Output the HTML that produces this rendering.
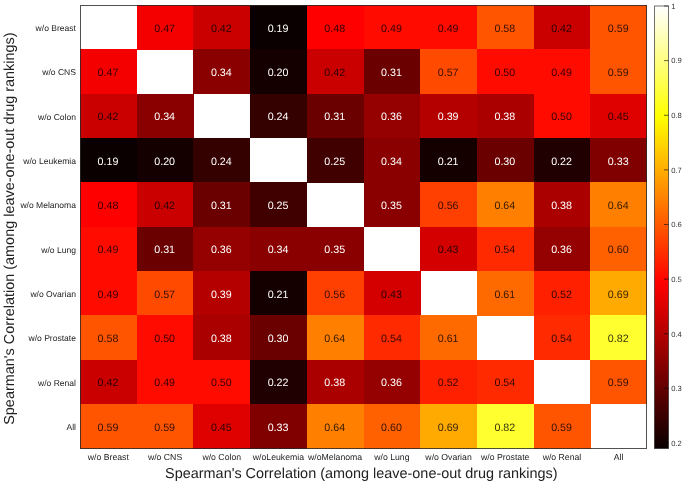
<!DOCTYPE html><html><head><meta charset="utf-8"><title>Spearman correlation heatmap</title>
<style>html,body{margin:0;padding:0;background:#fff}body{width:685px;height:483px;overflow:hidden}svg{display:block}text{text-rendering:geometricPrecision;font-family:"Liberation Sans",Arial,Helvetica,sans-serif}</style></head><body>
<svg width="685" height="483" viewBox="0 0 685 483">
<defs><linearGradient id="cb" x1="0" y1="1" x2="0" y2="0">
<stop offset="0" stop-color="rgb(10,0,0)"/>
<stop offset="0.375" stop-color="rgb(255,0,0)"/>
<stop offset="0.75" stop-color="rgb(255,255,0)"/>
<stop offset="1" stop-color="rgb(255,255,255)"/>
</linearGradient></defs>
<rect width="685" height="483" fill="#fff"/>
<g shape-rendering="crispEdges">
<rect x="136.70" y="5.00" width="57.00" height="44.65" fill="rgb(244,0,0)"/>
<rect x="193.40" y="5.00" width="57.00" height="44.65" fill="rgb(202,0,0)"/>
<rect x="250.10" y="5.00" width="57.00" height="44.65" fill="rgb(11,0,0)"/>
<rect x="306.80" y="5.00" width="57.00" height="44.65" fill="rgb(255,0,0)"/>
<rect x="363.50" y="5.00" width="57.00" height="44.65" fill="rgb(255,11,0)"/>
<rect x="420.20" y="5.00" width="57.00" height="44.65" fill="rgb(255,11,0)"/>
<rect x="476.90" y="5.00" width="57.00" height="44.65" fill="rgb(255,85,0)"/>
<rect x="533.60" y="5.00" width="57.00" height="44.65" fill="rgb(202,0,0)"/>
<rect x="590.30" y="5.00" width="57.00" height="44.65" fill="rgb(255,85,0)"/>
<rect x="80.00" y="49.35" width="57.00" height="44.65" fill="rgb(244,0,0)"/>
<rect x="193.40" y="49.35" width="57.00" height="44.65" fill="rgb(138,0,0)"/>
<rect x="250.10" y="49.35" width="57.00" height="44.65" fill="rgb(21,0,0)"/>
<rect x="306.80" y="49.35" width="57.00" height="44.65" fill="rgb(202,0,0)"/>
<rect x="363.50" y="49.35" width="57.00" height="44.65" fill="rgb(106,0,0)"/>
<rect x="420.20" y="49.35" width="57.00" height="44.65" fill="rgb(255,74,0)"/>
<rect x="476.90" y="49.35" width="57.00" height="44.65" fill="rgb(255,11,0)"/>
<rect x="533.60" y="49.35" width="57.00" height="44.65" fill="rgb(255,11,0)"/>
<rect x="590.30" y="49.35" width="57.00" height="44.65" fill="rgb(255,85,0)"/>
<rect x="80.00" y="93.70" width="57.00" height="44.65" fill="rgb(202,0,0)"/>
<rect x="136.70" y="93.70" width="57.00" height="44.65" fill="rgb(138,0,0)"/>
<rect x="250.10" y="93.70" width="57.00" height="44.65" fill="rgb(53,0,0)"/>
<rect x="306.80" y="93.70" width="57.00" height="44.65" fill="rgb(106,0,0)"/>
<rect x="363.50" y="93.70" width="57.00" height="44.65" fill="rgb(149,0,0)"/>
<rect x="420.20" y="93.70" width="57.00" height="44.65" fill="rgb(181,0,0)"/>
<rect x="476.90" y="93.70" width="57.00" height="44.65" fill="rgb(170,0,0)"/>
<rect x="533.60" y="93.70" width="57.00" height="44.65" fill="rgb(255,11,0)"/>
<rect x="590.30" y="93.70" width="57.00" height="44.65" fill="rgb(223,0,0)"/>
<rect x="80.00" y="138.05" width="57.00" height="44.65" fill="rgb(11,0,0)"/>
<rect x="136.70" y="138.05" width="57.00" height="44.65" fill="rgb(21,0,0)"/>
<rect x="193.40" y="138.05" width="57.00" height="44.65" fill="rgb(53,0,0)"/>
<rect x="306.80" y="138.05" width="57.00" height="44.65" fill="rgb(64,0,0)"/>
<rect x="363.50" y="138.05" width="57.00" height="44.65" fill="rgb(138,0,0)"/>
<rect x="420.20" y="138.05" width="57.00" height="44.65" fill="rgb(21,0,0)"/>
<rect x="476.90" y="138.05" width="57.00" height="44.65" fill="rgb(106,0,0)"/>
<rect x="533.60" y="138.05" width="57.00" height="44.65" fill="rgb(32,0,0)"/>
<rect x="590.30" y="138.05" width="57.00" height="44.65" fill="rgb(128,0,0)"/>
<rect x="80.00" y="182.40" width="57.00" height="44.65" fill="rgb(255,0,0)"/>
<rect x="136.70" y="182.40" width="57.00" height="44.65" fill="rgb(202,0,0)"/>
<rect x="193.40" y="182.40" width="57.00" height="44.65" fill="rgb(106,0,0)"/>
<rect x="250.10" y="182.40" width="57.00" height="44.65" fill="rgb(64,0,0)"/>
<rect x="363.50" y="182.40" width="57.00" height="44.65" fill="rgb(138,0,0)"/>
<rect x="420.20" y="182.40" width="57.00" height="44.65" fill="rgb(255,64,0)"/>
<rect x="476.90" y="182.40" width="57.00" height="44.65" fill="rgb(255,128,0)"/>
<rect x="533.60" y="182.40" width="57.00" height="44.65" fill="rgb(170,0,0)"/>
<rect x="590.30" y="182.40" width="57.00" height="44.65" fill="rgb(255,128,0)"/>
<rect x="80.00" y="226.75" width="57.00" height="44.65" fill="rgb(255,11,0)"/>
<rect x="136.70" y="226.75" width="57.00" height="44.65" fill="rgb(106,0,0)"/>
<rect x="193.40" y="226.75" width="57.00" height="44.65" fill="rgb(149,0,0)"/>
<rect x="250.10" y="226.75" width="57.00" height="44.65" fill="rgb(138,0,0)"/>
<rect x="306.80" y="226.75" width="57.00" height="44.65" fill="rgb(138,0,0)"/>
<rect x="420.20" y="226.75" width="57.00" height="44.65" fill="rgb(212,0,0)"/>
<rect x="476.90" y="226.75" width="57.00" height="44.65" fill="rgb(255,42,0)"/>
<rect x="533.60" y="226.75" width="57.00" height="44.65" fill="rgb(149,0,0)"/>
<rect x="590.30" y="226.75" width="57.00" height="44.65" fill="rgb(255,96,0)"/>
<rect x="80.00" y="271.10" width="57.00" height="44.65" fill="rgb(255,11,0)"/>
<rect x="136.70" y="271.10" width="57.00" height="44.65" fill="rgb(255,74,0)"/>
<rect x="193.40" y="271.10" width="57.00" height="44.65" fill="rgb(181,0,0)"/>
<rect x="250.10" y="271.10" width="57.00" height="44.65" fill="rgb(21,0,0)"/>
<rect x="306.80" y="271.10" width="57.00" height="44.65" fill="rgb(255,64,0)"/>
<rect x="363.50" y="271.10" width="57.00" height="44.65" fill="rgb(212,0,0)"/>
<rect x="476.90" y="271.10" width="57.00" height="44.65" fill="rgb(255,106,0)"/>
<rect x="533.60" y="271.10" width="57.00" height="44.65" fill="rgb(255,32,0)"/>
<rect x="590.30" y="271.10" width="57.00" height="44.65" fill="rgb(255,170,0)"/>
<rect x="80.00" y="315.45" width="57.00" height="44.65" fill="rgb(255,85,0)"/>
<rect x="136.70" y="315.45" width="57.00" height="44.65" fill="rgb(255,11,0)"/>
<rect x="193.40" y="315.45" width="57.00" height="44.65" fill="rgb(170,0,0)"/>
<rect x="250.10" y="315.45" width="57.00" height="44.65" fill="rgb(106,0,0)"/>
<rect x="306.80" y="315.45" width="57.00" height="44.65" fill="rgb(255,128,0)"/>
<rect x="363.50" y="315.45" width="57.00" height="44.65" fill="rgb(255,42,0)"/>
<rect x="420.20" y="315.45" width="57.00" height="44.65" fill="rgb(255,106,0)"/>
<rect x="533.60" y="315.45" width="57.00" height="44.65" fill="rgb(255,42,0)"/>
<rect x="590.30" y="315.45" width="57.00" height="44.65" fill="rgb(255,255,48)"/>
<rect x="80.00" y="359.80" width="57.00" height="44.65" fill="rgb(202,0,0)"/>
<rect x="136.70" y="359.80" width="57.00" height="44.65" fill="rgb(255,11,0)"/>
<rect x="193.40" y="359.80" width="57.00" height="44.65" fill="rgb(255,11,0)"/>
<rect x="250.10" y="359.80" width="57.00" height="44.65" fill="rgb(32,0,0)"/>
<rect x="306.80" y="359.80" width="57.00" height="44.65" fill="rgb(170,0,0)"/>
<rect x="363.50" y="359.80" width="57.00" height="44.65" fill="rgb(149,0,0)"/>
<rect x="420.20" y="359.80" width="57.00" height="44.65" fill="rgb(255,32,0)"/>
<rect x="476.90" y="359.80" width="57.00" height="44.65" fill="rgb(255,42,0)"/>
<rect x="590.30" y="359.80" width="57.00" height="44.65" fill="rgb(255,85,0)"/>
<rect x="80.00" y="404.15" width="57.00" height="44.65" fill="rgb(255,85,0)"/>
<rect x="136.70" y="404.15" width="57.00" height="44.65" fill="rgb(255,85,0)"/>
<rect x="193.40" y="404.15" width="57.00" height="44.65" fill="rgb(223,0,0)"/>
<rect x="250.10" y="404.15" width="57.00" height="44.65" fill="rgb(128,0,0)"/>
<rect x="306.80" y="404.15" width="57.00" height="44.65" fill="rgb(255,128,0)"/>
<rect x="363.50" y="404.15" width="57.00" height="44.65" fill="rgb(255,96,0)"/>
<rect x="420.20" y="404.15" width="57.00" height="44.65" fill="rgb(255,170,0)"/>
<rect x="476.90" y="404.15" width="57.00" height="44.65" fill="rgb(255,255,48)"/>
<rect x="533.60" y="404.15" width="57.00" height="44.65" fill="rgb(255,85,0)"/>
</g>
<rect x="80.50" y="5.50" width="566.00" height="443.00" fill="none" stroke="#262626" stroke-opacity="0.8" stroke-width="1"/>
<g font-size="10.7" text-anchor="middle">
<text x="164.65" y="31.68" fill="#000" fill-opacity="0.8">0.47</text>
<text x="221.35" y="31.68" fill="#000" fill-opacity="0.8">0.42</text>
<text x="278.05" y="31.68" fill="#fff">0.19</text>
<text x="334.75" y="31.68" fill="#000" fill-opacity="0.8">0.48</text>
<text x="391.45" y="31.68" fill="#000" fill-opacity="0.8">0.49</text>
<text x="448.15" y="31.68" fill="#000" fill-opacity="0.8">0.49</text>
<text x="504.85" y="31.68" fill="#000" fill-opacity="0.8">0.58</text>
<text x="561.55" y="31.68" fill="#000" fill-opacity="0.8">0.42</text>
<text x="618.25" y="31.68" fill="#000" fill-opacity="0.8">0.59</text>
<text x="107.95" y="76.03" fill="#000" fill-opacity="0.8">0.47</text>
<text x="221.35" y="76.03" fill="#fff">0.34</text>
<text x="278.05" y="76.03" fill="#fff">0.20</text>
<text x="334.75" y="76.03" fill="#000" fill-opacity="0.8">0.42</text>
<text x="391.45" y="76.03" fill="#fff">0.31</text>
<text x="448.15" y="76.03" fill="#000" fill-opacity="0.8">0.57</text>
<text x="504.85" y="76.03" fill="#000" fill-opacity="0.8">0.50</text>
<text x="561.55" y="76.03" fill="#000" fill-opacity="0.8">0.49</text>
<text x="618.25" y="76.03" fill="#000" fill-opacity="0.8">0.59</text>
<text x="107.95" y="120.38" fill="#000" fill-opacity="0.8">0.42</text>
<text x="164.65" y="120.38" fill="#fff">0.34</text>
<text x="278.05" y="120.38" fill="#fff">0.24</text>
<text x="334.75" y="120.38" fill="#fff">0.31</text>
<text x="391.45" y="120.38" fill="#fff">0.36</text>
<text x="448.15" y="120.38" fill="#fff">0.39</text>
<text x="504.85" y="120.38" fill="#fff">0.38</text>
<text x="561.55" y="120.38" fill="#000" fill-opacity="0.8">0.50</text>
<text x="618.25" y="120.38" fill="#000" fill-opacity="0.8">0.45</text>
<text x="107.95" y="164.72" fill="#fff">0.19</text>
<text x="164.65" y="164.72" fill="#fff">0.20</text>
<text x="221.35" y="164.72" fill="#fff">0.24</text>
<text x="334.75" y="164.72" fill="#fff">0.25</text>
<text x="391.45" y="164.72" fill="#fff">0.34</text>
<text x="448.15" y="164.72" fill="#fff">0.21</text>
<text x="504.85" y="164.72" fill="#fff">0.30</text>
<text x="561.55" y="164.72" fill="#fff">0.22</text>
<text x="618.25" y="164.72" fill="#fff">0.33</text>
<text x="107.95" y="209.08" fill="#000" fill-opacity="0.8">0.48</text>
<text x="164.65" y="209.08" fill="#000" fill-opacity="0.8">0.42</text>
<text x="221.35" y="209.08" fill="#fff">0.31</text>
<text x="278.05" y="209.08" fill="#fff">0.25</text>
<text x="391.45" y="209.08" fill="#fff">0.35</text>
<text x="448.15" y="209.08" fill="#000" fill-opacity="0.8">0.56</text>
<text x="504.85" y="209.08" fill="#000" fill-opacity="0.8">0.64</text>
<text x="561.55" y="209.08" fill="#fff">0.38</text>
<text x="618.25" y="209.08" fill="#000" fill-opacity="0.8">0.64</text>
<text x="107.95" y="253.43" fill="#000" fill-opacity="0.8">0.49</text>
<text x="164.65" y="253.43" fill="#fff">0.31</text>
<text x="221.35" y="253.43" fill="#fff">0.36</text>
<text x="278.05" y="253.43" fill="#fff">0.34</text>
<text x="334.75" y="253.43" fill="#fff">0.35</text>
<text x="448.15" y="253.43" fill="#000" fill-opacity="0.8">0.43</text>
<text x="504.85" y="253.43" fill="#000" fill-opacity="0.8">0.54</text>
<text x="561.55" y="253.43" fill="#fff">0.36</text>
<text x="618.25" y="253.43" fill="#000" fill-opacity="0.8">0.60</text>
<text x="107.95" y="297.78" fill="#000" fill-opacity="0.8">0.49</text>
<text x="164.65" y="297.78" fill="#000" fill-opacity="0.8">0.57</text>
<text x="221.35" y="297.78" fill="#fff">0.39</text>
<text x="278.05" y="297.78" fill="#fff">0.21</text>
<text x="334.75" y="297.78" fill="#000" fill-opacity="0.8">0.56</text>
<text x="391.45" y="297.78" fill="#000" fill-opacity="0.8">0.43</text>
<text x="504.85" y="297.78" fill="#000" fill-opacity="0.8">0.61</text>
<text x="561.55" y="297.78" fill="#000" fill-opacity="0.8">0.52</text>
<text x="618.25" y="297.78" fill="#000" fill-opacity="0.8">0.69</text>
<text x="107.95" y="342.12" fill="#000" fill-opacity="0.8">0.58</text>
<text x="164.65" y="342.12" fill="#000" fill-opacity="0.8">0.50</text>
<text x="221.35" y="342.12" fill="#fff">0.38</text>
<text x="278.05" y="342.12" fill="#fff">0.30</text>
<text x="334.75" y="342.12" fill="#000" fill-opacity="0.8">0.64</text>
<text x="391.45" y="342.12" fill="#000" fill-opacity="0.8">0.54</text>
<text x="448.15" y="342.12" fill="#000" fill-opacity="0.8">0.61</text>
<text x="561.55" y="342.12" fill="#000" fill-opacity="0.8">0.54</text>
<text x="618.25" y="342.12" fill="#000" fill-opacity="0.8">0.82</text>
<text x="107.95" y="386.48" fill="#000" fill-opacity="0.8">0.42</text>
<text x="164.65" y="386.48" fill="#000" fill-opacity="0.8">0.49</text>
<text x="221.35" y="386.48" fill="#000" fill-opacity="0.8">0.50</text>
<text x="278.05" y="386.48" fill="#fff">0.22</text>
<text x="334.75" y="386.48" fill="#fff">0.38</text>
<text x="391.45" y="386.48" fill="#fff">0.36</text>
<text x="448.15" y="386.48" fill="#000" fill-opacity="0.8">0.52</text>
<text x="504.85" y="386.48" fill="#000" fill-opacity="0.8">0.54</text>
<text x="618.25" y="386.48" fill="#000" fill-opacity="0.8">0.59</text>
<text x="107.95" y="430.82" fill="#000" fill-opacity="0.8">0.59</text>
<text x="164.65" y="430.82" fill="#000" fill-opacity="0.8">0.59</text>
<text x="221.35" y="430.82" fill="#000" fill-opacity="0.8">0.45</text>
<text x="278.05" y="430.82" fill="#fff">0.33</text>
<text x="334.75" y="430.82" fill="#000" fill-opacity="0.8">0.64</text>
<text x="391.45" y="430.82" fill="#000" fill-opacity="0.8">0.60</text>
<text x="448.15" y="430.82" fill="#000" fill-opacity="0.8">0.69</text>
<text x="504.85" y="430.82" fill="#000" fill-opacity="0.8">0.82</text>
<text x="561.55" y="430.82" fill="#000" fill-opacity="0.8">0.59</text>
</g>
<g font-size="8.55" text-anchor="end" fill="#222">
<text x="76.00" y="30.98">w/o Breast</text>
<text x="76.00" y="75.33">w/o CNS</text>
<text x="76.00" y="119.67">w/o Colon</text>
<text x="76.00" y="164.03">w/o Leukemia</text>
<text x="76.00" y="208.38">w/o Melanoma</text>
<text x="76.00" y="252.73">w/o Lung</text>
<text x="76.00" y="297.08">w/o Ovarian</text>
<text x="76.00" y="341.43">w/o Prostate</text>
<text x="76.00" y="385.78">w/o Renal</text>
<text x="76.00" y="430.12">All</text>
</g>
<g font-size="8.7" text-anchor="middle" fill="#222">
<text x="108.35" y="459.70">w/o Breast</text>
<text x="165.05" y="459.70">w/o CNS</text>
<text x="221.75" y="459.70">w/o Colon</text>
<text x="278.45" y="459.70">w/oLeukemia</text>
<text x="335.15" y="459.70">w/oMelanoma</text>
<text x="391.85" y="459.70">w/o Lung</text>
<text x="448.55" y="459.70">w/o Ovarian</text>
<text x="505.25" y="459.70">w/o Prostate</text>
<text x="561.95" y="459.70">w/o Renal</text>
<text x="618.65" y="459.70">All</text>
</g>
<text x="361.3" y="477.6" font-size="14.43" text-anchor="middle" fill="#222">Spearman's Correlation (among leave-one-out drug rankings)</text>
<text transform="translate(14.2,228.6) rotate(-90)" font-size="14.43" text-anchor="middle" fill="#222">Spearman's Correlation (among leave-one-out drug rankings)</text>
<rect x="654.50" y="6.00" width="14.00" height="442.50" fill="url(#cb)" stroke="#1a1a1a" stroke-opacity="0.62" stroke-width="1"/>
<g font-size="7.6" fill="#333">
<line x1="664.00" y1="443.04" x2="668.50" y2="443.04" stroke="#000" stroke-opacity="0.6" stroke-width="1"/>
<text x="671.20" y="445.84">0.2</text>
<line x1="664.00" y1="388.41" x2="668.50" y2="388.41" stroke="#000" stroke-opacity="0.6" stroke-width="1"/>
<text x="671.20" y="391.21">0.3</text>
<line x1="664.00" y1="333.78" x2="668.50" y2="333.78" stroke="#000" stroke-opacity="0.6" stroke-width="1"/>
<text x="671.20" y="336.58">0.4</text>
<line x1="664.00" y1="279.15" x2="668.50" y2="279.15" stroke="#000" stroke-opacity="0.6" stroke-width="1"/>
<text x="671.20" y="281.95">0.5</text>
<line x1="664.00" y1="224.52" x2="668.50" y2="224.52" stroke="#000" stroke-opacity="0.6" stroke-width="1"/>
<text x="671.20" y="227.32">0.6</text>
<line x1="664.00" y1="169.89" x2="668.50" y2="169.89" stroke="#000" stroke-opacity="0.6" stroke-width="1"/>
<text x="671.20" y="172.69">0.7</text>
<line x1="664.00" y1="115.26" x2="668.50" y2="115.26" stroke="#000" stroke-opacity="0.6" stroke-width="1"/>
<text x="671.20" y="118.06">0.8</text>
<line x1="664.00" y1="60.63" x2="668.50" y2="60.63" stroke="#000" stroke-opacity="0.6" stroke-width="1"/>
<text x="671.20" y="63.43">0.9</text>
<line x1="664.00" y1="6.00" x2="668.50" y2="6.00" stroke="#000" stroke-opacity="0.6" stroke-width="1"/>
<text x="671.20" y="8.80">1</text>
</g>
</svg></body></html>
